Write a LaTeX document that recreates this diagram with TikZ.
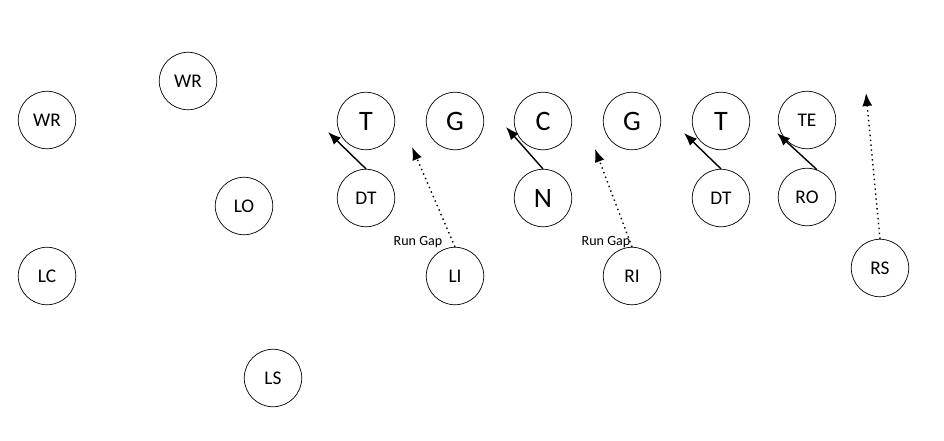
\documentclass[tikz,border=0pt]{standalone}
\usepackage{fontspec}
\setmainfont{Carlito}
\usetikzlibrary{arrows.meta}

\begin{document}
\begin{tikzpicture}[x=0.02cm, y=-0.02cm,
  player/.style={circle, draw, minimum size=1.15cm, inner sep=0pt, font=\fontsize{11}{13}\selectfont},
  lineman/.style={player, font=\fontsize{16}{18}\selectfont},
  rush/.style={-{Latex[length=2.6mm,width=2mm]}, thick},
  gap/.style={-{Latex[length=2.6mm,width=2mm]}, thick, dotted}]
  \useasboundingbox (0,0) rectangle (944,440);

  % Offense
  \node[player] (WRa) at (47,120) {WR};
  \node[player] (WRb) at (188,81) {WR};
  \node[lineman] (LT) at (366,121) {T};
  \node[lineman] (LG) at (455,121) {G};
  \node[lineman] (C) at (543,121) {C};
  \node[lineman] (RG) at (632,121) {G};
  \node[lineman] (RT) at (721,121) {T};
  \node[player] (TE) at (807,120) {TE};

  % Defense
  \node[player] (LDT) at (366,198) {DT};
  \node[lineman] (N) at (543,198) {N};
  \node[player] (RDT) at (721,198) {DT};
  \node[player] (RO) at (807,197) {RO};
  \node[player] (LO) at (244,206) {LO};
  \node[player] (LC) at (47,276) {LC};
  \node[player] (LI) at (455,276) {LI};
  \node[player] (RI) at (632,276) {RI};
  \node[player] (RS) at (880,268) {RS};
  \node[player] (LS) at (273,378) {LS};

  % Arrow ends
  \coordinate (ldtEnd) at (328,132);
  \coordinate (nEnd) at (506,127);
  \coordinate (rdtEnd) at (684,133);
  \coordinate (roEnd) at (777,133);
  \coordinate (liEnd) at (412,147);
  \coordinate (riEnd) at (595,149);
  \coordinate (rsEnd) at (866,93);

  % Rushes
  \draw[rush] (LDT.north) -- (ldtEnd);
  \draw[rush] (N.north) -- (nEnd);
  \draw[rush] (RDT.north) -- (rdtEnd);
  \draw[rush] (RO.70) -- (roEnd);

  % Gaps
  \draw[gap] (LI.north) -- (liEnd);
  \draw[gap] (RI.north) -- (riEnd);
  \draw[gap] (RS.north) -- (rsEnd);

  \node[font=\fontsize{8}{10}\selectfont] (gapL) at (418,242) {Run Gap};
  \node[font=\fontsize{8}{10}\selectfont] (gapR) at (606,242) {Run Gap};
\end{tikzpicture}
\end{document}
